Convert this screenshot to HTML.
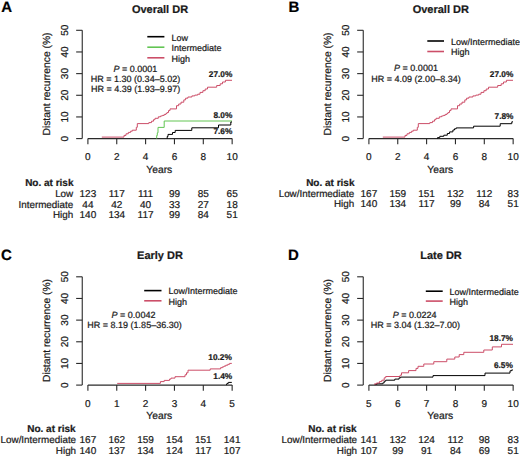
<!DOCTYPE html><html><head><meta charset="utf-8"><style>html,body{margin:0;padding:0;background:#fff;width:520px;height:456px;overflow:hidden}svg{display:block}text{font-family:"Liberation Sans",sans-serif;text-rendering:geometricPrecision;stroke:#1a1a1a;stroke-width:0.22px;paint-order:stroke}</style></head><body>
<svg width="520" height="456" viewBox="0 0 520 456">
<rect width="520" height="456" fill="#fff"/>
<text x="1.30" y="12.30" font-size="15" text-anchor="start" font-weight="bold" fill="#000">A</text>
<text x="288.60" y="12.30" font-size="15" text-anchor="start" font-weight="bold" fill="#000">B</text>
<text x="1.00" y="260.00" font-size="15" text-anchor="start" font-weight="bold" fill="#000">C</text>
<text x="288.10" y="260.00" font-size="15" text-anchor="start" font-weight="bold" fill="#000">D</text>
<text x="160.00" y="12.80" font-size="11" text-anchor="middle" font-weight="bold" fill="#1a1a1a">Overall DR</text>
<text x="440.80" y="12.80" font-size="11" text-anchor="middle" font-weight="bold" fill="#1a1a1a">Overall DR</text>
<text x="160.00" y="258.80" font-size="11" text-anchor="middle" font-weight="bold" fill="#1a1a1a">Early DR</text>
<text x="441.00" y="258.80" font-size="11" text-anchor="middle" font-weight="bold" fill="#1a1a1a">Late DR</text>
<path d="M82.25,30.30V138.60" stroke="#2a2a2a" stroke-width="1.1" fill="none"/>
<path d="M76.15,138.60H82.25" stroke="#2a2a2a" stroke-width="1.1"/>
<text transform="translate(67.80,138.60) rotate(-90)" font-size="10" text-anchor="middle" fill="#1a1a1a">0</text>
<path d="M76.15,116.94H82.25" stroke="#2a2a2a" stroke-width="1.1"/>
<text transform="translate(67.80,116.94) rotate(-90)" font-size="10" text-anchor="middle" fill="#1a1a1a">10</text>
<path d="M76.15,95.28H82.25" stroke="#2a2a2a" stroke-width="1.1"/>
<text transform="translate(67.80,95.28) rotate(-90)" font-size="10" text-anchor="middle" fill="#1a1a1a">20</text>
<path d="M76.15,73.62H82.25" stroke="#2a2a2a" stroke-width="1.1"/>
<text transform="translate(67.80,73.62) rotate(-90)" font-size="10" text-anchor="middle" fill="#1a1a1a">30</text>
<path d="M76.15,51.96H82.25" stroke="#2a2a2a" stroke-width="1.1"/>
<text transform="translate(67.80,51.96) rotate(-90)" font-size="10" text-anchor="middle" fill="#1a1a1a">40</text>
<path d="M76.15,30.30H82.25" stroke="#2a2a2a" stroke-width="1.1"/>
<text transform="translate(67.80,30.30) rotate(-90)" font-size="10" text-anchor="middle" fill="#1a1a1a">50</text>
<path d="M87.90,138.60H232.15" stroke="#2a2a2a" stroke-width="1.1" fill="none"/>
<path d="M87.90,138.60V144.20" stroke="#2a2a2a" stroke-width="1.1"/>
<text x="87.90" y="160.00" font-size="10" text-anchor="middle" fill="#1a1a1a">0</text>
<path d="M116.75,138.60V144.20" stroke="#2a2a2a" stroke-width="1.1"/>
<text x="116.75" y="160.00" font-size="10" text-anchor="middle" fill="#1a1a1a">2</text>
<path d="M145.60,138.60V144.20" stroke="#2a2a2a" stroke-width="1.1"/>
<text x="145.60" y="160.00" font-size="10" text-anchor="middle" fill="#1a1a1a">4</text>
<path d="M174.45,138.60V144.20" stroke="#2a2a2a" stroke-width="1.1"/>
<text x="174.45" y="160.00" font-size="10" text-anchor="middle" fill="#1a1a1a">6</text>
<path d="M203.30,138.60V144.20" stroke="#2a2a2a" stroke-width="1.1"/>
<text x="203.30" y="160.00" font-size="10" text-anchor="middle" fill="#1a1a1a">8</text>
<path d="M232.15,138.60V144.20" stroke="#2a2a2a" stroke-width="1.1"/>
<text x="232.15" y="160.00" font-size="10" text-anchor="middle" fill="#1a1a1a">10</text>
<text x="159.30" y="172.70" font-size="10.3" text-anchor="middle" fill="#1a1a1a">Years</text>
<text transform="translate(49.60,84.00) rotate(-90)" font-size="10.3" text-anchor="middle" fill="#1a1a1a">Distant recurrence (%)</text>
<path d="M363.25,30.30V138.60" stroke="#2a2a2a" stroke-width="1.1" fill="none"/>
<path d="M357.15,138.60H363.25" stroke="#2a2a2a" stroke-width="1.1"/>
<text transform="translate(348.80,138.60) rotate(-90)" font-size="10" text-anchor="middle" fill="#1a1a1a">0</text>
<path d="M357.15,116.94H363.25" stroke="#2a2a2a" stroke-width="1.1"/>
<text transform="translate(348.80,116.94) rotate(-90)" font-size="10" text-anchor="middle" fill="#1a1a1a">10</text>
<path d="M357.15,95.28H363.25" stroke="#2a2a2a" stroke-width="1.1"/>
<text transform="translate(348.80,95.28) rotate(-90)" font-size="10" text-anchor="middle" fill="#1a1a1a">20</text>
<path d="M357.15,73.62H363.25" stroke="#2a2a2a" stroke-width="1.1"/>
<text transform="translate(348.80,73.62) rotate(-90)" font-size="10" text-anchor="middle" fill="#1a1a1a">30</text>
<path d="M357.15,51.96H363.25" stroke="#2a2a2a" stroke-width="1.1"/>
<text transform="translate(348.80,51.96) rotate(-90)" font-size="10" text-anchor="middle" fill="#1a1a1a">40</text>
<path d="M357.15,30.30H363.25" stroke="#2a2a2a" stroke-width="1.1"/>
<text transform="translate(348.80,30.30) rotate(-90)" font-size="10" text-anchor="middle" fill="#1a1a1a">50</text>
<path d="M368.90,138.60H513.15" stroke="#2a2a2a" stroke-width="1.1" fill="none"/>
<path d="M368.90,138.60V144.20" stroke="#2a2a2a" stroke-width="1.1"/>
<text x="368.90" y="160.00" font-size="10" text-anchor="middle" fill="#1a1a1a">0</text>
<path d="M397.75,138.60V144.20" stroke="#2a2a2a" stroke-width="1.1"/>
<text x="397.75" y="160.00" font-size="10" text-anchor="middle" fill="#1a1a1a">2</text>
<path d="M426.60,138.60V144.20" stroke="#2a2a2a" stroke-width="1.1"/>
<text x="426.60" y="160.00" font-size="10" text-anchor="middle" fill="#1a1a1a">4</text>
<path d="M455.45,138.60V144.20" stroke="#2a2a2a" stroke-width="1.1"/>
<text x="455.45" y="160.00" font-size="10" text-anchor="middle" fill="#1a1a1a">6</text>
<path d="M484.30,138.60V144.20" stroke="#2a2a2a" stroke-width="1.1"/>
<text x="484.30" y="160.00" font-size="10" text-anchor="middle" fill="#1a1a1a">8</text>
<path d="M513.15,138.60V144.20" stroke="#2a2a2a" stroke-width="1.1"/>
<text x="513.15" y="160.00" font-size="10" text-anchor="middle" fill="#1a1a1a">10</text>
<text x="440.30" y="172.70" font-size="10.3" text-anchor="middle" fill="#1a1a1a">Years</text>
<text transform="translate(330.60,84.00) rotate(-90)" font-size="10.3" text-anchor="middle" fill="#1a1a1a">Distant recurrence (%)</text>
<path d="M82.25,276.80V385.10" stroke="#2a2a2a" stroke-width="1.1" fill="none"/>
<path d="M76.15,385.10H82.25" stroke="#2a2a2a" stroke-width="1.1"/>
<text transform="translate(67.80,385.10) rotate(-90)" font-size="10" text-anchor="middle" fill="#1a1a1a">0</text>
<path d="M76.15,363.44H82.25" stroke="#2a2a2a" stroke-width="1.1"/>
<text transform="translate(67.80,363.44) rotate(-90)" font-size="10" text-anchor="middle" fill="#1a1a1a">10</text>
<path d="M76.15,341.78H82.25" stroke="#2a2a2a" stroke-width="1.1"/>
<text transform="translate(67.80,341.78) rotate(-90)" font-size="10" text-anchor="middle" fill="#1a1a1a">20</text>
<path d="M76.15,320.12H82.25" stroke="#2a2a2a" stroke-width="1.1"/>
<text transform="translate(67.80,320.12) rotate(-90)" font-size="10" text-anchor="middle" fill="#1a1a1a">30</text>
<path d="M76.15,298.46H82.25" stroke="#2a2a2a" stroke-width="1.1"/>
<text transform="translate(67.80,298.46) rotate(-90)" font-size="10" text-anchor="middle" fill="#1a1a1a">40</text>
<path d="M76.15,276.80H82.25" stroke="#2a2a2a" stroke-width="1.1"/>
<text transform="translate(67.80,276.80) rotate(-90)" font-size="10" text-anchor="middle" fill="#1a1a1a">50</text>
<path d="M87.90,385.10H232.15" stroke="#2a2a2a" stroke-width="1.1" fill="none"/>
<path d="M87.90,385.10V390.70" stroke="#2a2a2a" stroke-width="1.1"/>
<text x="87.90" y="406.50" font-size="10" text-anchor="middle" fill="#1a1a1a">0</text>
<path d="M116.75,385.10V390.70" stroke="#2a2a2a" stroke-width="1.1"/>
<text x="116.75" y="406.50" font-size="10" text-anchor="middle" fill="#1a1a1a">1</text>
<path d="M145.60,385.10V390.70" stroke="#2a2a2a" stroke-width="1.1"/>
<text x="145.60" y="406.50" font-size="10" text-anchor="middle" fill="#1a1a1a">2</text>
<path d="M174.45,385.10V390.70" stroke="#2a2a2a" stroke-width="1.1"/>
<text x="174.45" y="406.50" font-size="10" text-anchor="middle" fill="#1a1a1a">3</text>
<path d="M203.30,385.10V390.70" stroke="#2a2a2a" stroke-width="1.1"/>
<text x="203.30" y="406.50" font-size="10" text-anchor="middle" fill="#1a1a1a">4</text>
<path d="M232.15,385.10V390.70" stroke="#2a2a2a" stroke-width="1.1"/>
<text x="232.15" y="406.50" font-size="10" text-anchor="middle" fill="#1a1a1a">5</text>
<text x="159.30" y="419.20" font-size="10.3" text-anchor="middle" fill="#1a1a1a">Years</text>
<text transform="translate(49.60,330.50) rotate(-90)" font-size="10.3" text-anchor="middle" fill="#1a1a1a">Distant recurrence (%)</text>
<path d="M363.25,276.80V385.10" stroke="#2a2a2a" stroke-width="1.1" fill="none"/>
<path d="M357.15,385.10H363.25" stroke="#2a2a2a" stroke-width="1.1"/>
<text transform="translate(348.80,385.10) rotate(-90)" font-size="10" text-anchor="middle" fill="#1a1a1a">0</text>
<path d="M357.15,363.44H363.25" stroke="#2a2a2a" stroke-width="1.1"/>
<text transform="translate(348.80,363.44) rotate(-90)" font-size="10" text-anchor="middle" fill="#1a1a1a">10</text>
<path d="M357.15,341.78H363.25" stroke="#2a2a2a" stroke-width="1.1"/>
<text transform="translate(348.80,341.78) rotate(-90)" font-size="10" text-anchor="middle" fill="#1a1a1a">20</text>
<path d="M357.15,320.12H363.25" stroke="#2a2a2a" stroke-width="1.1"/>
<text transform="translate(348.80,320.12) rotate(-90)" font-size="10" text-anchor="middle" fill="#1a1a1a">30</text>
<path d="M357.15,298.46H363.25" stroke="#2a2a2a" stroke-width="1.1"/>
<text transform="translate(348.80,298.46) rotate(-90)" font-size="10" text-anchor="middle" fill="#1a1a1a">40</text>
<path d="M357.15,276.80H363.25" stroke="#2a2a2a" stroke-width="1.1"/>
<text transform="translate(348.80,276.80) rotate(-90)" font-size="10" text-anchor="middle" fill="#1a1a1a">50</text>
<path d="M368.90,385.10H513.15" stroke="#2a2a2a" stroke-width="1.1" fill="none"/>
<path d="M368.90,385.10V390.70" stroke="#2a2a2a" stroke-width="1.1"/>
<text x="368.90" y="406.50" font-size="10" text-anchor="middle" fill="#1a1a1a">5</text>
<path d="M397.75,385.10V390.70" stroke="#2a2a2a" stroke-width="1.1"/>
<text x="397.75" y="406.50" font-size="10" text-anchor="middle" fill="#1a1a1a">6</text>
<path d="M426.60,385.10V390.70" stroke="#2a2a2a" stroke-width="1.1"/>
<text x="426.60" y="406.50" font-size="10" text-anchor="middle" fill="#1a1a1a">7</text>
<path d="M455.45,385.10V390.70" stroke="#2a2a2a" stroke-width="1.1"/>
<text x="455.45" y="406.50" font-size="10" text-anchor="middle" fill="#1a1a1a">8</text>
<path d="M484.30,385.10V390.70" stroke="#2a2a2a" stroke-width="1.1"/>
<text x="484.30" y="406.50" font-size="10" text-anchor="middle" fill="#1a1a1a">9</text>
<path d="M513.15,385.10V390.70" stroke="#2a2a2a" stroke-width="1.1"/>
<text x="513.15" y="406.50" font-size="10" text-anchor="middle" fill="#1a1a1a">10</text>
<text x="440.30" y="419.20" font-size="10.3" text-anchor="middle" fill="#1a1a1a">Years</text>
<text transform="translate(330.60,330.50) rotate(-90)" font-size="10.3" text-anchor="middle" fill="#1a1a1a">Distant recurrence (%)</text>
<path d="M156.70,138.60H156.70V135.50H157.30V132.80H158.00V127.40H164.20V121.00H232.00" fill="none" stroke="#62C553" stroke-width="1.0"/>
<path d="M167.20,138.60H167.20V136.50H168.00V134.40H172.50V132.50H175.20V130.40H191.80V127.80H218.50V125.00H230.80V122.00H232.00" fill="none" stroke="#000000" stroke-width="1.0"/>
<path d="M101.80,137.10H124.00V135.40H126.00V133.80H128.30V132.40H130.60V131.20H132.30V130.20H136.30V127.30H137.30V123.60H148.80V122.60H151.50V121.20H153.50V119.70H155.00V118.30H158.30V116.80H160.50V116.00H162.30V115.40H164.20V114.40H166.00V113.40H167.10V112.50H168.50V110.60H170.00V108.90H176.50V105.70H178.70V104.00H181.00V102.20H183.80V99.90H185.60V98.20H187.90V97.00H191.90V95.90H194.80V95.10H197.70V94.20H200.00V92.40H202.90V90.70H205.20V89.00H207.50V87.20H216.70V85.50H220.20V83.80H222.50V82.00H225.40V80.30H232.00" fill="none" stroke="#CC4E68" stroke-width="1.0"/>
<path d="M437.50,138.60H437.50V137.60H439.80V136.30H443.80V135.20H447.30V133.50H449.60V131.90H452.90V130.00H454.50V128.80H456.20V127.90H473.60V126.20H500.20V123.70H511.80V121.80H513.00" fill="none" stroke="#000000" stroke-width="1.0"/>
<path d="M382.80,137.10H405.00V135.40H407.00V133.80H409.30V132.40H411.60V131.20H413.30V130.20H417.30V127.30H418.30V123.60H429.80V122.60H432.50V121.20H434.50V119.70H436.00V118.30H439.30V116.80H441.50V116.00H443.30V115.40H445.20V114.40H447.00V113.40H448.10V112.50H449.50V110.60H451.00V108.90H457.50V105.70H459.70V104.00H462.00V102.20H464.80V99.90H466.60V98.20H468.90V97.00H472.90V95.90H475.80V95.10H478.70V94.20H481.00V92.40H483.90V90.70H486.20V89.00H488.50V87.20H497.70V85.50H501.20V83.80H503.50V82.00H506.40V80.30H513.00" fill="none" stroke="#CC4E68" stroke-width="1.0"/>
<path d="M226.50,385.10H226.50V384.30H227.00V383.40H228.30V382.40H231.80" fill="none" stroke="#000000" stroke-width="1.0"/>
<path d="M117.20,383.40H160.40V381.60H164.20V380.40H169.50V379.10H171.00V378.10H175.00V376.70H185.00V374.80H186.50V372.80H188.00V370.20H210.20V368.90H220.60V367.70H222.40V366.90H224.00V366.10H225.80V365.20H227.80V364.30H229.60V363.40H231.80" fill="none" stroke="#CC4E68" stroke-width="1.0"/>
<path d="M375.00,385.10H375.00V384.30H377.00V383.80H382.80V382.90H384.20V381.20H385.70V380.20H394.80V379.10H399.10V377.80H400.60V377.10H433.00V375.60H485.00V373.10H510.00V370.80H511.50V370.00H513.00" fill="none" stroke="#000000" stroke-width="1.0"/>
<path d="M374.10,384.00H376.50V383.00H379.40V381.60H381.80V380.20H384.20V377.80H385.70V376.50H400.10V375.20H401.50V372.80H408.60V370.60H416.00V368.40H418.00V366.30H423.80V364.00H433.80V361.70H446.80V359.10H454.80V357.00H459.20V354.60H463.80V352.30H483.80V350.00H492.30V346.90H501.50V344.30H513.00" fill="none" stroke="#CC4E68" stroke-width="1.0"/>
<path d="M147.30,36.70H164.40" stroke="#000000" stroke-width="1.6"/>
<text x="171.60" y="40.50" font-size="9" text-anchor="start" fill="#1a1a1a">Low</text>
<path d="M147.30,47.20H164.40" stroke="#62C553" stroke-width="1.6"/>
<text x="171.60" y="51.00" font-size="9" text-anchor="start" fill="#1a1a1a">Intermediate</text>
<path d="M147.30,57.80H164.40" stroke="#CC4E68" stroke-width="1.6"/>
<text x="171.60" y="61.60" font-size="9" text-anchor="start" fill="#1a1a1a">High</text>
<path d="M427.30,41.00H444.00" stroke="#000000" stroke-width="1.6"/>
<text x="451.00" y="44.80" font-size="9" text-anchor="start" fill="#1a1a1a">Low/Intermediate</text>
<path d="M427.30,51.50H444.00" stroke="#CC4E68" stroke-width="1.6"/>
<text x="451.00" y="55.30" font-size="9" text-anchor="start" fill="#1a1a1a">High</text>
<path d="M144.20,290.60H161.50" stroke="#000000" stroke-width="1.6"/>
<text x="168.50" y="294.40" font-size="9" text-anchor="start" fill="#1a1a1a">Low/Intermediate</text>
<path d="M144.20,300.80H161.50" stroke="#CC4E68" stroke-width="1.6"/>
<text x="168.50" y="304.60" font-size="9" text-anchor="start" fill="#1a1a1a">High</text>
<path d="M425.80,291.20H442.70" stroke="#000000" stroke-width="1.6"/>
<text x="449.60" y="295.00" font-size="9" text-anchor="start" fill="#1a1a1a">Low/Intermediate</text>
<path d="M425.80,301.10H442.70" stroke="#CC4E68" stroke-width="1.6"/>
<text x="449.60" y="304.90" font-size="9" text-anchor="start" fill="#1a1a1a">High</text>
<text x="135.30" y="71.50" font-size="9" text-anchor="middle" fill="#1a1a1a"><tspan font-style="italic">P</tspan> = 0.0001</text>
<text x="135.50" y="81.60" font-size="9" text-anchor="middle" fill="#1a1a1a">HR = 1.30 (0.34&#8211;5.02)</text>
<text x="135.70" y="92.20" font-size="9" text-anchor="middle" fill="#1a1a1a">HR = 4.39 (1.93&#8211;9.97)</text>
<text x="416.00" y="71.40" font-size="9" text-anchor="middle" fill="#1a1a1a"><tspan font-style="italic">P</tspan> = 0.0001</text>
<text x="416.00" y="81.50" font-size="9" text-anchor="middle" fill="#1a1a1a">HR = 4.09 (2.00&#8211;8.34)</text>
<text x="133.50" y="317.90" font-size="9" text-anchor="middle" fill="#1a1a1a"><tspan font-style="italic">P</tspan> = 0.0042</text>
<text x="134.50" y="327.90" font-size="9" text-anchor="middle" fill="#1a1a1a">HR = 8.19 (1.85&#8211;36.30)</text>
<text x="414.60" y="317.90" font-size="9" text-anchor="middle" fill="#1a1a1a"><tspan font-style="italic">P</tspan> = 0.0224</text>
<text x="415.30" y="327.90" font-size="9" text-anchor="middle" fill="#1a1a1a">HR = 3.04 (1.32&#8211;7.00)</text>
<text x="232.30" y="76.70" font-size="8.3" text-anchor="end" font-weight="bold" fill="#1a1a1a">27.0%</text>
<text x="232.30" y="118.00" font-size="8.3" text-anchor="end" font-weight="bold" fill="#1a1a1a">8.0%</text>
<text x="232.30" y="133.70" font-size="8.3" text-anchor="end" font-weight="bold" fill="#1a1a1a">7.6%</text>
<text x="513.30" y="77.00" font-size="8.3" text-anchor="end" font-weight="bold" fill="#1a1a1a">27.0%</text>
<text x="513.50" y="118.70" font-size="8.3" text-anchor="end" font-weight="bold" fill="#1a1a1a">7.8%</text>
<text x="231.80" y="359.80" font-size="8.3" text-anchor="end" font-weight="bold" fill="#1a1a1a">10.2%</text>
<text x="232.20" y="378.50" font-size="8.3" text-anchor="end" font-weight="bold" fill="#1a1a1a">1.4%</text>
<text x="513.00" y="341.20" font-size="8.3" text-anchor="end" font-weight="bold" fill="#1a1a1a">18.7%</text>
<text x="512.80" y="367.70" font-size="8.3" text-anchor="end" font-weight="bold" fill="#1a1a1a">6.5%</text>
<text x="73.50" y="185.50" font-size="10" text-anchor="end" font-weight="bold" fill="#1a1a1a">No. at risk</text>
<text x="73.20" y="196.70" font-size="9.85" text-anchor="end" fill="#1a1a1a">Low</text>
<text x="87.90" y="196.70" font-size="10" text-anchor="middle" fill="#1a1a1a">123</text>
<text x="116.75" y="196.70" font-size="10" text-anchor="middle" fill="#1a1a1a">117</text>
<text x="145.60" y="196.70" font-size="10" text-anchor="middle" fill="#1a1a1a">111</text>
<text x="174.45" y="196.70" font-size="10" text-anchor="middle" fill="#1a1a1a">99</text>
<text x="203.30" y="196.70" font-size="10" text-anchor="middle" fill="#1a1a1a">85</text>
<text x="232.15" y="196.70" font-size="10" text-anchor="middle" fill="#1a1a1a">65</text>
<text x="73.20" y="207.50" font-size="9.85" text-anchor="end" fill="#1a1a1a">Intermediate</text>
<text x="87.90" y="207.50" font-size="10" text-anchor="middle" fill="#1a1a1a">44</text>
<text x="116.75" y="207.50" font-size="10" text-anchor="middle" fill="#1a1a1a">42</text>
<text x="145.60" y="207.50" font-size="10" text-anchor="middle" fill="#1a1a1a">40</text>
<text x="174.45" y="207.50" font-size="10" text-anchor="middle" fill="#1a1a1a">33</text>
<text x="203.30" y="207.50" font-size="10" text-anchor="middle" fill="#1a1a1a">27</text>
<text x="232.15" y="207.50" font-size="10" text-anchor="middle" fill="#1a1a1a">18</text>
<text x="73.20" y="218.00" font-size="9.85" text-anchor="end" fill="#1a1a1a">High</text>
<text x="87.90" y="218.00" font-size="10" text-anchor="middle" fill="#1a1a1a">140</text>
<text x="116.75" y="218.00" font-size="10" text-anchor="middle" fill="#1a1a1a">134</text>
<text x="145.60" y="218.00" font-size="10" text-anchor="middle" fill="#1a1a1a">117</text>
<text x="174.45" y="218.00" font-size="10" text-anchor="middle" fill="#1a1a1a">99</text>
<text x="203.30" y="218.00" font-size="10" text-anchor="middle" fill="#1a1a1a">84</text>
<text x="232.15" y="218.00" font-size="10" text-anchor="middle" fill="#1a1a1a">51</text>
<text x="354.50" y="185.50" font-size="10" text-anchor="end" font-weight="bold" fill="#1a1a1a">No. at risk</text>
<text x="354.20" y="196.70" font-size="9.85" text-anchor="end" fill="#1a1a1a">Low/Intermediate</text>
<text x="368.90" y="196.70" font-size="10" text-anchor="middle" fill="#1a1a1a">167</text>
<text x="397.75" y="196.70" font-size="10" text-anchor="middle" fill="#1a1a1a">159</text>
<text x="426.60" y="196.70" font-size="10" text-anchor="middle" fill="#1a1a1a">151</text>
<text x="455.45" y="196.70" font-size="10" text-anchor="middle" fill="#1a1a1a">132</text>
<text x="484.30" y="196.70" font-size="10" text-anchor="middle" fill="#1a1a1a">112</text>
<text x="513.15" y="196.70" font-size="10" text-anchor="middle" fill="#1a1a1a">83</text>
<text x="354.20" y="207.10" font-size="9.85" text-anchor="end" fill="#1a1a1a">High</text>
<text x="368.90" y="207.10" font-size="10" text-anchor="middle" fill="#1a1a1a">140</text>
<text x="397.75" y="207.10" font-size="10" text-anchor="middle" fill="#1a1a1a">134</text>
<text x="426.60" y="207.10" font-size="10" text-anchor="middle" fill="#1a1a1a">117</text>
<text x="455.45" y="207.10" font-size="10" text-anchor="middle" fill="#1a1a1a">99</text>
<text x="484.30" y="207.10" font-size="10" text-anchor="middle" fill="#1a1a1a">84</text>
<text x="513.15" y="207.10" font-size="10" text-anchor="middle" fill="#1a1a1a">51</text>
<text x="75.60" y="432.00" font-size="10" text-anchor="end" font-weight="bold" fill="#1a1a1a">No. at risk</text>
<text x="76.10" y="443.20" font-size="9.85" text-anchor="end" fill="#1a1a1a">Low/Intermediate</text>
<text x="87.90" y="443.20" font-size="10" text-anchor="middle" fill="#1a1a1a">167</text>
<text x="116.75" y="443.20" font-size="10" text-anchor="middle" fill="#1a1a1a">162</text>
<text x="145.60" y="443.20" font-size="10" text-anchor="middle" fill="#1a1a1a">159</text>
<text x="174.45" y="443.20" font-size="10" text-anchor="middle" fill="#1a1a1a">154</text>
<text x="203.30" y="443.20" font-size="10" text-anchor="middle" fill="#1a1a1a">151</text>
<text x="232.15" y="443.20" font-size="10" text-anchor="middle" fill="#1a1a1a">141</text>
<text x="76.10" y="453.60" font-size="9.85" text-anchor="end" fill="#1a1a1a">High</text>
<text x="87.90" y="453.60" font-size="10" text-anchor="middle" fill="#1a1a1a">140</text>
<text x="116.75" y="453.60" font-size="10" text-anchor="middle" fill="#1a1a1a">137</text>
<text x="145.60" y="453.60" font-size="10" text-anchor="middle" fill="#1a1a1a">134</text>
<text x="174.45" y="453.60" font-size="10" text-anchor="middle" fill="#1a1a1a">124</text>
<text x="203.30" y="453.60" font-size="10" text-anchor="middle" fill="#1a1a1a">117</text>
<text x="232.15" y="453.60" font-size="10" text-anchor="middle" fill="#1a1a1a">107</text>
<text x="356.60" y="432.00" font-size="10" text-anchor="end" font-weight="bold" fill="#1a1a1a">No. at risk</text>
<text x="357.10" y="443.20" font-size="9.85" text-anchor="end" fill="#1a1a1a">Low/Intermediate</text>
<text x="368.90" y="443.20" font-size="10" text-anchor="middle" fill="#1a1a1a">141</text>
<text x="397.75" y="443.20" font-size="10" text-anchor="middle" fill="#1a1a1a">132</text>
<text x="426.60" y="443.20" font-size="10" text-anchor="middle" fill="#1a1a1a">124</text>
<text x="455.45" y="443.20" font-size="10" text-anchor="middle" fill="#1a1a1a">112</text>
<text x="484.30" y="443.20" font-size="10" text-anchor="middle" fill="#1a1a1a">98</text>
<text x="513.15" y="443.20" font-size="10" text-anchor="middle" fill="#1a1a1a">83</text>
<text x="357.10" y="453.60" font-size="9.85" text-anchor="end" fill="#1a1a1a">High</text>
<text x="368.90" y="453.60" font-size="10" text-anchor="middle" fill="#1a1a1a">107</text>
<text x="397.75" y="453.60" font-size="10" text-anchor="middle" fill="#1a1a1a">99</text>
<text x="426.60" y="453.60" font-size="10" text-anchor="middle" fill="#1a1a1a">91</text>
<text x="455.45" y="453.60" font-size="10" text-anchor="middle" fill="#1a1a1a">84</text>
<text x="484.30" y="453.60" font-size="10" text-anchor="middle" fill="#1a1a1a">69</text>
<text x="513.15" y="453.60" font-size="10" text-anchor="middle" fill="#1a1a1a">51</text>
</svg></body></html>
